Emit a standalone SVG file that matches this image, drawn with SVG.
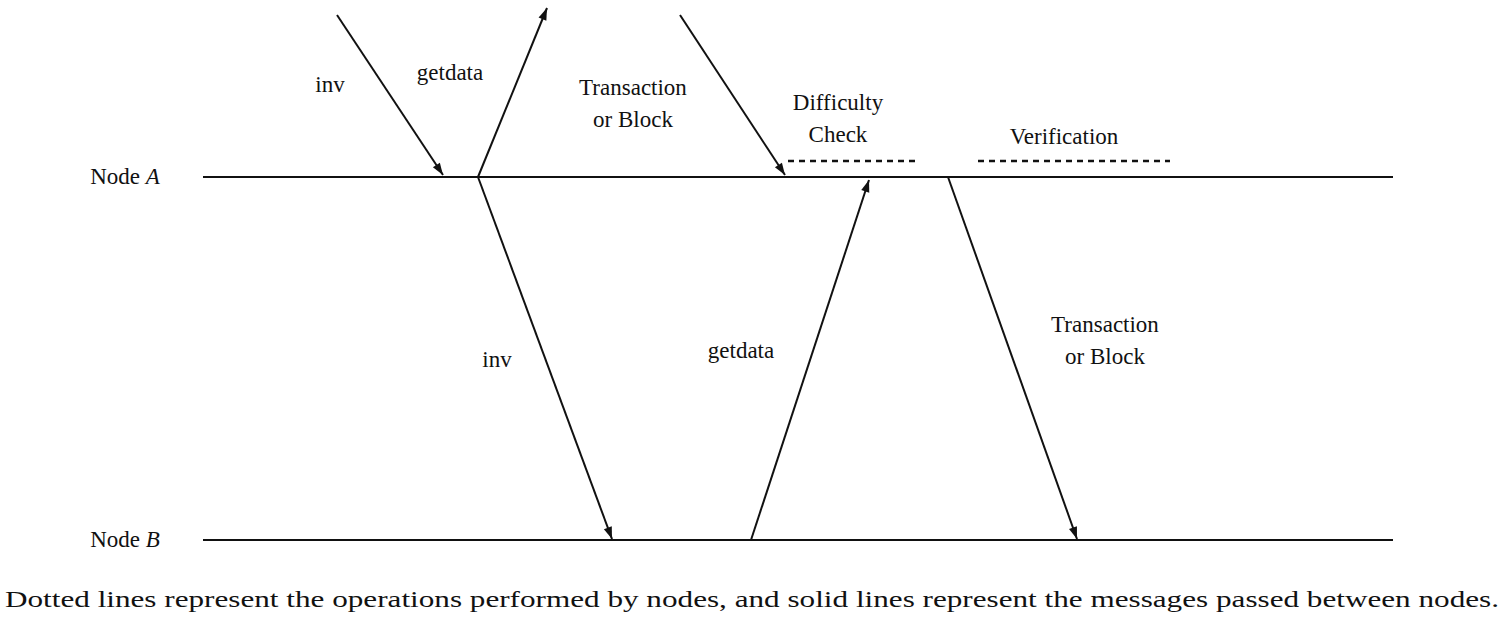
<svg xmlns="http://www.w3.org/2000/svg" width="1504" height="627" viewBox="0 0 1504 627">
<style>
text{font-family:"Liberation Serif",serif;font-size:23px;fill:#111;text-anchor:middle}
.l{stroke:#111;stroke-width:2;fill:none}
.d{stroke:#111;stroke-width:2.5;stroke-dasharray:6,5;fill:none}
</style>
<defs><marker id="a" viewBox="0 0 10 10" refX="10" refY="5" markerWidth="14" markerHeight="12" orient="auto" markerUnits="userSpaceOnUse"><path d="M0,1.5L10,5L0,8.5z" fill="#111"/></marker></defs>
<rect width="1504" height="627" fill="#fff"/>
<g id="nodeA"><line class="l" x1="203" y1="177" x2="1393" y2="177"/><text x="125" y="184">Node <tspan font-style="italic">A</tspan></text></g>
<g id="nodeB"><line class="l" x1="203" y1="540" x2="1393" y2="540"/><text x="125" y="547">Node <tspan font-style="italic">B</tspan></text></g>
<g id="connectors">
<line class="l" x1="337" y1="15" x2="443" y2="175" marker-end="url(#a)"/>
<line class="l" x1="478" y1="177" x2="547" y2="8" marker-end="url(#a)"/>
<line class="l" x1="478" y1="177" x2="612" y2="539" marker-end="url(#a)"/>
<line class="l" x1="680" y1="15" x2="785" y2="175" marker-end="url(#a)"/>
<line class="l" x1="751" y1="540" x2="869" y2="180" marker-end="url(#a)"/>
<line class="l" x1="948" y1="177" x2="1077" y2="539" marker-end="url(#a)"/>
<line class="d" x1="788" y1="161" x2="918" y2="161"/>
<line class="d" x1="978" y1="161" x2="1170" y2="161"/>
</g>
<g id="labels">
<text x="330" y="92">inv</text>
<text x="450" y="80">getdata</text>
<text x="633" y="95">Transaction</text>
<text x="633" y="127">or Block</text>
<text x="838" y="110">Difficulty</text>
<text x="838" y="142">Check</text>
<text x="1064" y="144">Verification</text>
<text x="497" y="367">inv</text>
<text x="741" y="358">getdata</text>
<text x="1105" y="332">Transaction</text>
<text x="1105" y="364">or Block</text>
<text x="752" y="607" font-size="26" textLength="1494" lengthAdjust="spacingAndGlyphs">Dotted lines represent the operations performed by nodes, and solid lines represent the messages passed between nodes.</text>
</g>
</svg>
